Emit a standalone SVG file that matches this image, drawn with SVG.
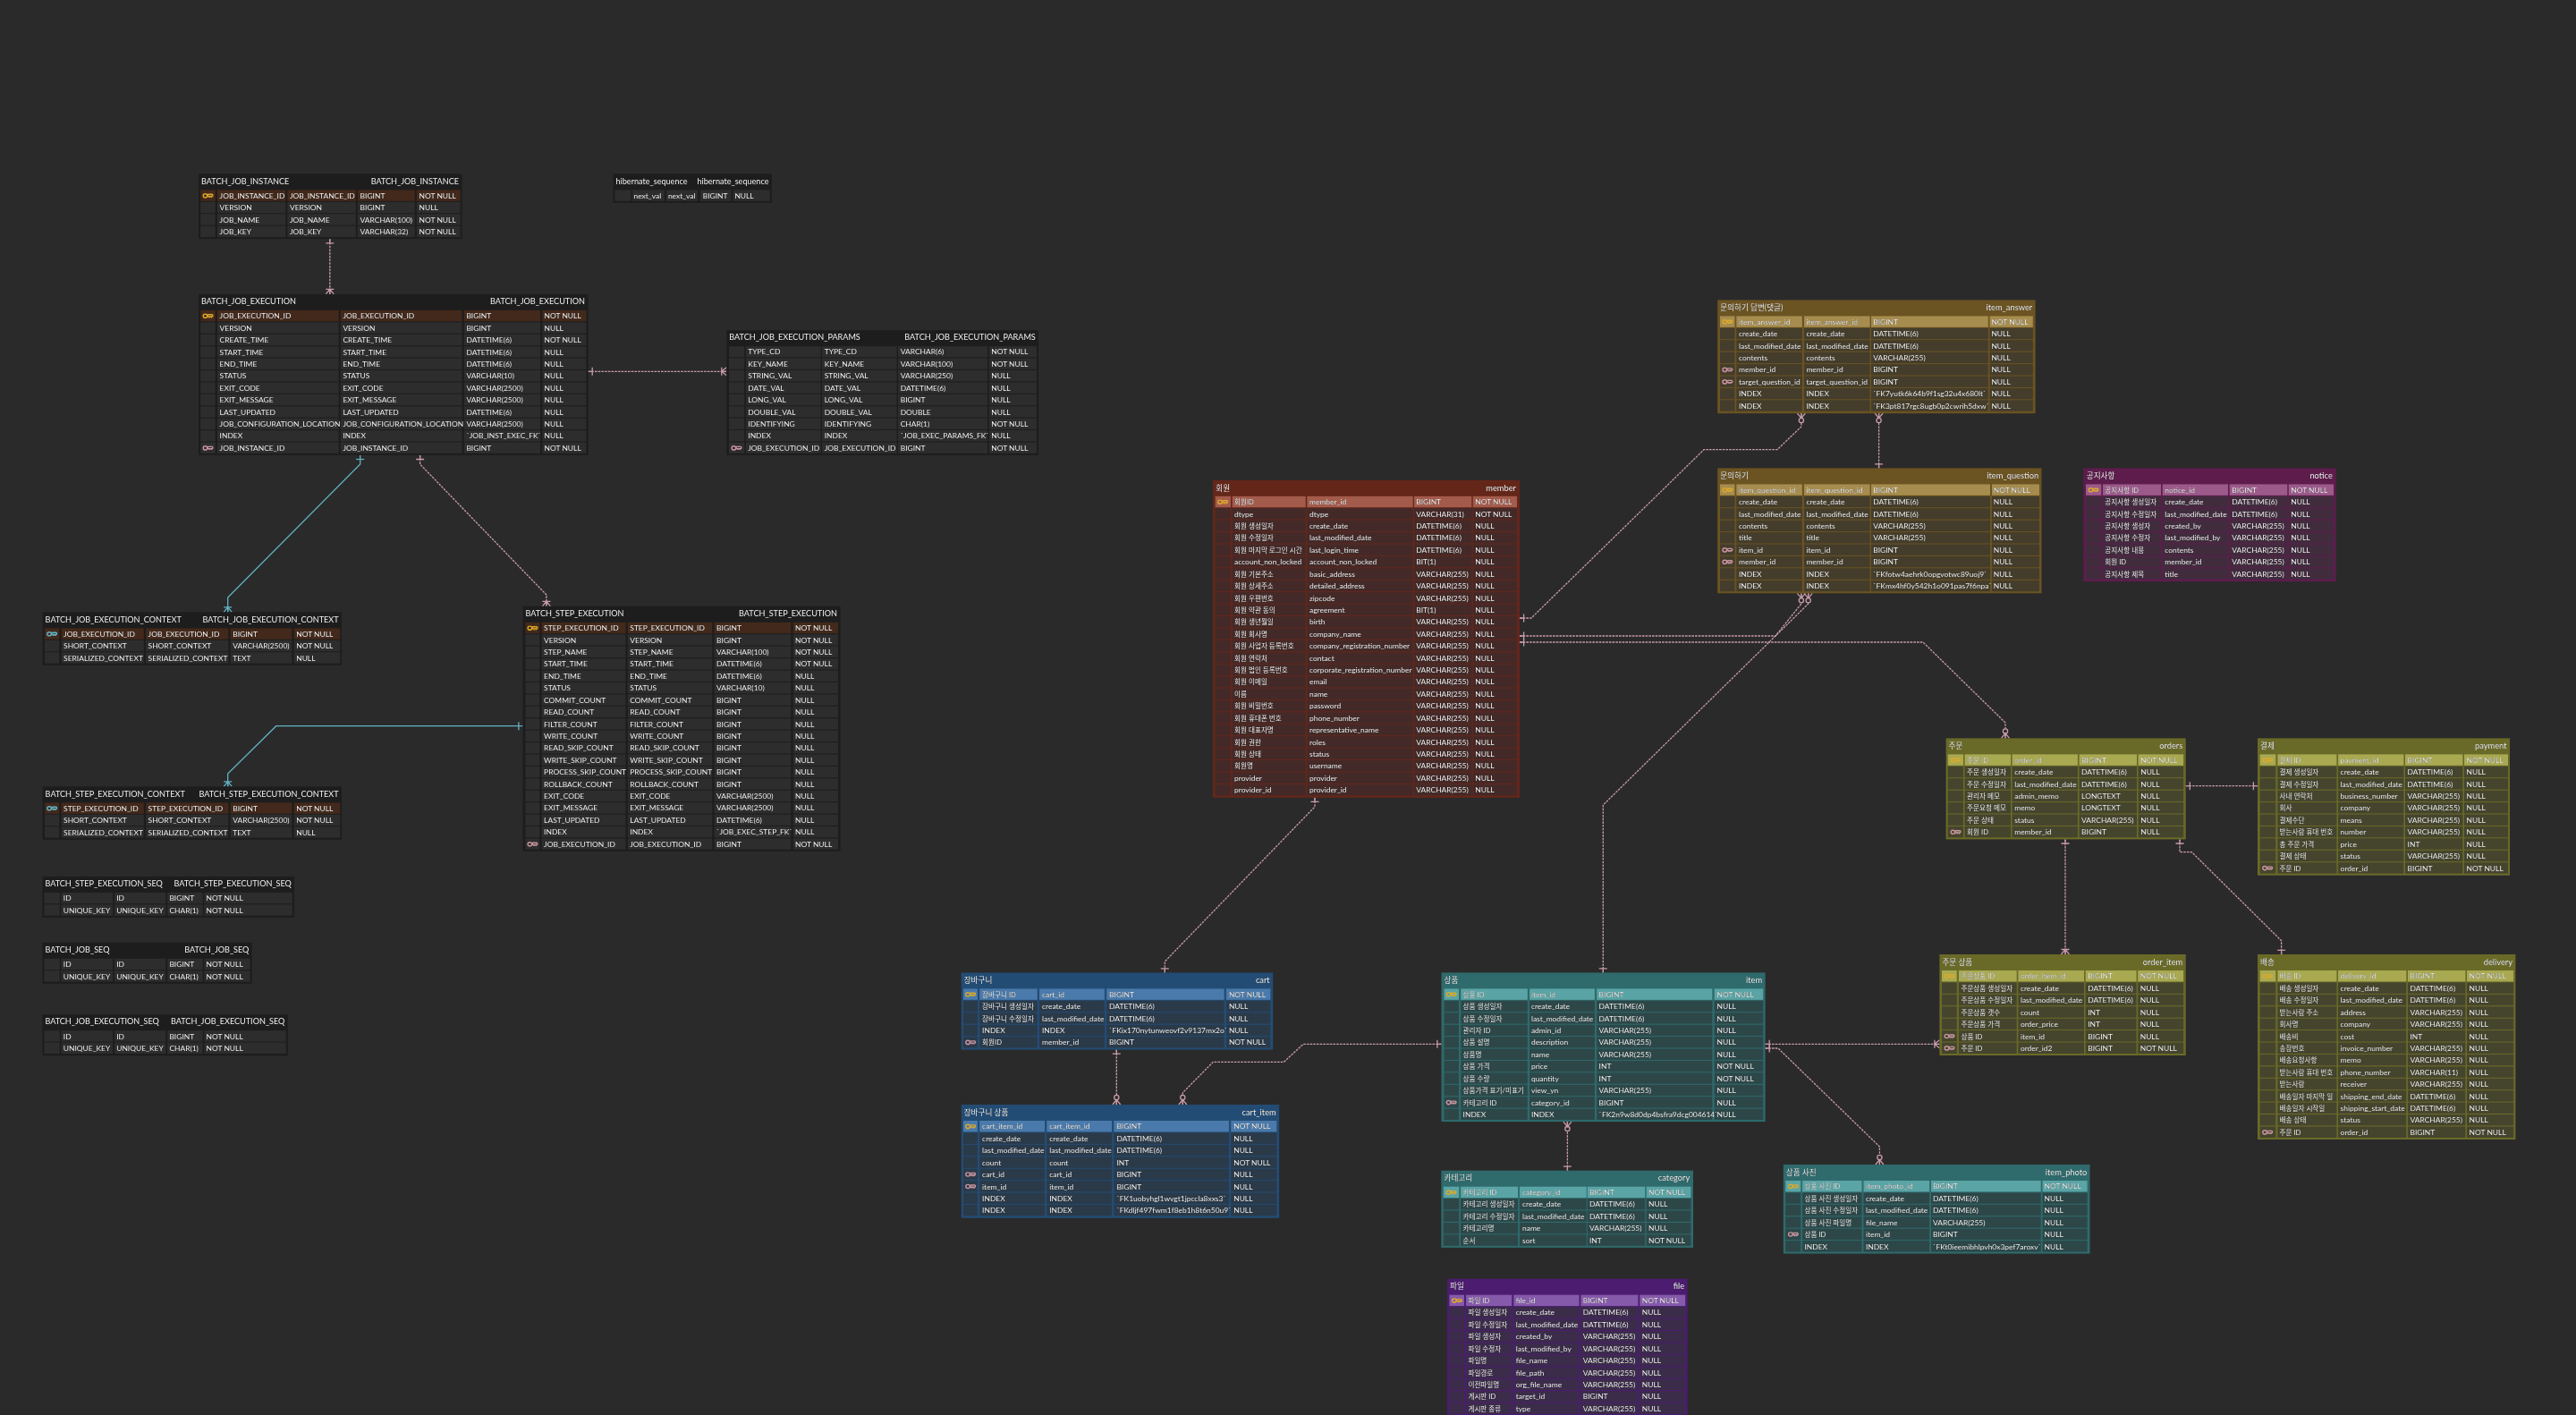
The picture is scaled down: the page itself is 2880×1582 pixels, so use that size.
<svg xmlns="http://www.w3.org/2000/svg" width="2880" height="1582" viewBox="0 0 2880 1582">
<style>
text{font-family:Lato,"Noto Sans CJK KR","Noto Sans",sans-serif;font-size:8.45px;fill:#f6f6f6}
.ti{font-size:9.3px}.dk .ti{font-size:9.1px}.tk{font-size:8.6px}.e{text-anchor:end}
.kn text{font-size:7.6px}.kn text.la{font-size:8.45px}
.tx{filter:drop-shadow(.5px .6px .5px rgba(0,0,0,.85))}
.dk .o{fill:#1d1d1d}.dk .r{fill:#2d2d2d}.dk .p{fill:#43291b}
.re .o{fill:#65261a}.re .r{fill:#432a28}.re .p{fill:#a35b4c}
.ye .o{fill:#6b5322}.ye .r{fill:#443d2c}.ye .p{fill:#a68c4e}
.pu .o{fill:#5e1c4d}.pu .r{fill:#412c3e}.pu .p{fill:#9c5a8b}
.ol .o{fill:#6a6a28}.ol .r{fill:#45452e}.ol .p{fill:#a9a952}
.te .o{fill:#2f6a6c}.te .r{fill:#2d4748}.te .p{fill:#5aa4a5}
.bl .o{fill:#234c74}.bl .r{fill:#2b3a49}.bl .p{fill:#4a7aab}
.vi .o{fill:#4c1c70}.vi .r{fill:#3b2c4a}.vi .p{fill:#855aaa}
.ky{stroke:#dcaa2c}.kf{stroke:#c9959f}.kt{stroke:#5fb7c8}
.kk{fill:none;stroke-width:1.4}
.c{fill:none;stroke:#c99ca8;stroke-width:1.3;stroke-dasharray:2.6 1.1}
.ct{fill:none;stroke:#62b1c2;stroke-width:1.3}
.c{marker-start:url(#bar)}.ct{marker-start:url(#bart)}
.m{fill:none;stroke:#c99ca8;stroke-width:1.3}.mt{fill:none;stroke:#62b1c2;stroke-width:1.3}
</style>
<defs>
<marker id="bar" markerUnits="userSpaceOnUse" markerWidth="26" markerHeight="16" refX="20" refY="8" orient="auto-start-reverse"><path class="m" d="M15.4 3.5V12.5M15.4 8H20"/></marker>
<marker id="bart" markerUnits="userSpaceOnUse" markerWidth="26" markerHeight="16" refX="20" refY="8" orient="auto-start-reverse"><path class="mt" d="M15.4 3.5V12.5"/></marker>
<marker id="crow" markerUnits="userSpaceOnUse" markerWidth="26" markerHeight="16" refX="20" refY="8" orient="auto-start-reverse"><path class="m" d="M14.5 3.5V12.5M20 3.5L14.5 8L20 12.5M14.5 8H20"/></marker>
<marker id="crowt" markerUnits="userSpaceOnUse" markerWidth="26" markerHeight="16" refX="20" refY="8" orient="auto-start-reverse"><path class="mt" d="M14.5 3.5V12.5M20 3.5L14.5 8L20 12.5M14.5 8H20"/></marker>
<marker id="crowo" markerUnits="userSpaceOnUse" markerWidth="26" markerHeight="16" refX="20" refY="8" orient="auto-start-reverse"><circle cx="12" cy="8" r="2.6" fill="#2a2a2a" stroke="#c99ca8" stroke-width="1.3"/><path class="m" d="M20 3.5L14.5 8L20 12.5M14.5 8H20M20 8"/></marker>
<g id="k"><ellipse class="kk" cx="-2.9" rx="2.3" ry="2.1"/><rect class="kk" x="-.3" y="-1.5" width="5.8" height="2.2" rx=".9"/><path class="kk" d="M1.6 .7V2.2M4 .7V2.2"/></g>
<g id="r1"><rect x="2.2" width="16.5" height="12.4"/><rect x="21" width="76.3" height="12.4"/><rect x="99.4" width="76.4" height="12.4"/><rect x="178" width="63.8" height="12.4"/><rect x="244" width="48.7" height="12.4"/></g>
<g id="r2"><rect x="2.2" width="16.5" height="12.4"/><rect x="21" width="135.7" height="12.4"/><rect x="158.8" width="135.7" height="12.4"/><rect x="296.8" width="85.2" height="12.4"/><rect x="384.3" width="49.1" height="12.4"/></g>
<g id="r3"><rect x="2" width="18" height="12.4"/><rect x="21.6" width="35.8" height="12.4"/><rect x="59.5" width="35" height="12.4"/><rect x="97.5" width="34.4" height="12.4"/><rect x="134.1" width="41.1" height="12.4"/></g>
<g id="r4"><rect x="2.7" width="17.3" height="12.4"/><rect x="21.7" width="83.7" height="12.4"/><rect x="106.7" width="83.7" height="12.4"/><rect x="191.7" width="100" height="12.4"/><rect x="293.4" width="53.3" height="12.4"/></g>
<g id="r5"><rect x="2.4" width="16.2" height="12.4"/><rect x="21.1" width="92.1" height="12.4"/><rect x="115.6" width="92.1" height="12.4"/><rect x="210.1" width="68.6" height="12.4"/><rect x="281.1" width="51.6" height="12.4"/></g>
<g id="r6"><rect x="2.9" width="15.9" height="12.4"/><rect x="21.1" width="93.9" height="12.4"/><rect x="117.3" width="94.5" height="12.4"/><rect x="214.1" width="85.7" height="12.4"/><rect x="302.2" width="50.3" height="12.4"/></g>
<g id="r7"><rect x="2" width="17.4" height="12.4"/><rect x="21" width="57.7" height="12.4"/><rect x="80.6" width="57.3" height="12.4"/><rect x="139.8" width="39.5" height="12.4"/><rect x="181" width="98.4" height="12.4"/></g>
<g id="r8"><rect x="2" width="17.4" height="12.4"/><rect x="21" width="57.7" height="12.4"/><rect x="80.6" width="57.3" height="12.4"/><rect x="139.8" width="39.5" height="12.4"/><rect x="181" width="51" height="12.4"/></g>
<g id="r9"><rect x="2" width="17.4" height="12.4"/><rect x="21" width="57.7" height="12.4"/><rect x="80.6" width="57.3" height="12.4"/><rect x="139.8" width="39.5" height="12.4"/><rect x="181" width="91.4" height="12.4"/></g>
<g id="r10"><rect x="2.7" width="17.3" height="12.4"/><rect x="21.7" width="82" height="12.4"/><rect x="105.3" width="118.4" height="12.4"/><rect x="225" width="64.3" height="12.4"/><rect x="290.7" width="49.3" height="12.4"/></g>
<g id="r11"><rect x="2.8" width="16.5" height="12.4"/><rect x="21.1" width="73.5" height="12.4"/><rect x="96.8" width="73.6" height="12.4"/><rect x="171.8" width="130.8" height="12.4"/><rect x="304.4" width="48.2" height="12.4"/></g>
<g id="r12"><rect x="2.8" width="16.5" height="12.4"/><rect x="21.1" width="73.5" height="12.4"/><rect x="96.8" width="73.6" height="12.4"/><rect x="171.8" width="133" height="12.4"/><rect x="306.8" width="53" height="12.4"/></g>
<g id="r13"><rect x="2.7" width="17.3" height="12.4"/><rect x="21.7" width="65" height="12.4"/><rect x="88.4" width="73.3" height="12.4"/><rect x="163.4" width="64.6" height="12.4"/><rect x="229.4" width="50.3" height="12.4"/></g>
<g id="r14"><rect x="2.1" width="17.3" height="12.4"/><rect x="21" width="51.4" height="12.4"/><rect x="74" width="73.3" height="12.4"/><rect x="149" width="64.4" height="12.4"/><rect x="215" width="50.5" height="12.4"/></g>
<g id="r15"><rect x="2.6" width="17.7" height="12.4"/><rect x="22.4" width="66" height="12.4"/><rect x="90.1" width="73.3" height="12.4"/><rect x="165" width="64.4" height="12.4"/><rect x="231" width="49" height="12.4"/></g>
<g id="r16"><rect x="2.6" width="16.8" height="12.4"/><rect x="21.5" width="64.8" height="12.4"/><rect x="88" width="73.6" height="12.4"/><rect x="163.3" width="56.8" height="12.4"/><rect x="221.8" width="50.9" height="12.4"/></g>
<g id="r17"><rect x="2.6" width="17.7" height="12.4"/><rect x="22.4" width="66" height="12.4"/><rect x="90" width="76.3" height="12.4"/><rect x="168" width="64.4" height="12.4"/><rect x="234" width="52.2" height="12.4"/></g>
<g id="r18"><rect x="2.3" width="15.9" height="12.4"/><rect x="20.5" width="64.5" height="12.4"/><rect x="87.3" width="72.9" height="12.4"/><rect x="162.5" width="131.4" height="12.4"/><rect x="296.3" width="49.3" height="12.4"/></g>
<g id="r19"><rect x="2.3" width="15.9" height="12.4"/><rect x="20.5" width="72.8" height="12.4"/><rect x="95.6" width="72.7" height="12.4"/><rect x="170.7" width="128.5" height="12.4"/><rect x="301.6" width="51" height="12.4"/></g>
<g id="r20"><rect x="3" width="16.5" height="12.4"/><rect x="21.8" width="74.5" height="12.4"/><rect x="98.6" width="72.8" height="12.4"/><rect x="173.7" width="129.1" height="12.4"/><rect x="305.2" width="54.5" height="12.4"/></g>
<g id="r21"><rect x="2.5" width="17.4" height="12.4"/><rect x="21.8" width="64" height="12.4"/><rect x="87.7" width="74.7" height="12.4"/><rect x="163.4" width="64.5" height="12.4"/><rect x="229.3" width="49.9" height="12.4"/></g>
<g id="r22"><rect x="2.4" width="17" height="12.4"/><rect x="21.3" width="66.4" height="12.4"/><rect x="89.7" width="73.6" height="12.4"/><rect x="165.2" width="122.7" height="12.4"/><rect x="289.8" width="50" height="12.4"/></g>
<g id="r23"><rect x="2.4" width="16.5" height="12.4"/><rect x="20.9" width="51.3" height="12.4"/><rect x="74.2" width="73.2" height="12.4"/><rect x="149.3" width="64" height="12.4"/><rect x="215.2" width="50.9" height="12.4"/></g>
</defs>
<rect width="2880" height="1582" fill="#2a2a2a"/>
<g id="connectors">
<path class="c" marker-end="url(#crow)" d="M368.8 267.3V328.9"/>
<path class="c" marker-end="url(#crow)" d="M657.6 415.3H812.3"/>
<path class="ct" marker-end="url(#crowt)" d="M402.7 508.9V519L254.7 668V684.4"/>
<path class="c" marker-end="url(#crow)" d="M469.6 508.9V519L610.9 665V677.8"/>
<path class="ct" marker-end="url(#crowt)" d="M584.5 811.7H308.7L254.7 865V879.4"/>
<path class="c" marker-end="url(#crowo)" d="M1699 691H1712L1905 502.7H1987L2013.9 477V462"/>
<path class="c" marker-end="url(#crowo)" d="M2100.6 523.4V462"/>
<path class="c" marker-end="url(#crowo)" d="M1699 711H1985L2013.9 675V663.3"/>
<path class="c" marker-end="url(#crowo)" d="M1792.3 1087.4V900L2021.7 675V663.3"/>
<path class="c" marker-end="url(#crowo)" d="M1699 718H2150L2242 808V825.4"/>
<path class="c" marker-end="url(#bar)" d="M2443.7 878.7H2524"/>
<path class="c" marker-end="url(#crow)" d="M2309 938.4V1067"/>
<path class="c" marker-end="url(#bar)" d="M2437 938.4V952.7H2450.4L2550.6 1051.7V1067"/>
<path class="c" marker-end="url(#bar)" d="M1470 891.8V902L1302.3 1075V1087.4"/>
<path class="c" marker-end="url(#crowo)" d="M1248.3 1173.6V1235"/>
<path class="c" marker-end="url(#crowo)" d="M1611.5 1167.3H1457.2L1435.5 1187.3H1356.3L1322.3 1221.7V1235"/>
<path class="c" marker-end="url(#crowo)" d="M1752.4 1308.7V1254.1"/>
<path class="c" marker-end="url(#crow)" d="M1973.6 1167.3H2168.4"/>
<path class="c" marker-end="url(#crowo)" d="M1973.6 1172H1988L2101.4 1282V1302"/>
</g>

<g id="BATCH_JOB_INSTANCE" class="dk" transform="translate(222,194.4)"><rect class="o" width="294.5" height="72.7"/>
<use class="p" href="#r1" y="18"/><g class="r"><use href="#r1" y="31.4"/><use href="#r1" y="44.8"/><use href="#r1" y="58.3"/></g>
<use href="#k" class="ky" x="10.4" y="24.4"/>
<g class="tx"><text class="ti" x="3" y="11.3">BATCH_JOB_INSTANCE</text><text class="ti e" x="291" y="11.3">BATCH_JOB_INSTANCE</text>
<g transform="translate(23.6)"><text y="27.4">JOB_INSTANCE_ID</text><text y="40.8">VERSION</text><text y="54.2">JOB_NAME</text><text y="67.7">JOB_KEY</text></g>
<g transform="translate(102)"><text y="27.4">JOB_INSTANCE_ID</text><text y="40.8">VERSION</text><text y="54.2">JOB_NAME</text><text y="67.7">JOB_KEY</text></g>
<g transform="translate(180.6)"><text y="27.4">BIGINT</text><text y="40.8">BIGINT</text><text y="54.2">VARCHAR(100)</text><text y="67.7">VARCHAR(32)</text></g>
<g transform="translate(246.6)"><text y="27.4">NOT NULL</text><text y="40.8">NULL</text><text y="54.2">NOT NULL</text><text y="67.7">NOT NULL</text></g></g></g>

<g id="hibernate_sequence" class="dk" transform="translate(685.5,194.4)"><rect class="o" width="177.4" height="32.5"/>
<use class="r" href="#r3" y="18"/>
<g class="tx"><text class="ti" x="3" y="11.3">hibernate_sequence</text><text class="ti e" x="174" y="11.3">hibernate_sequence</text>
<text x="23" y="27.4">next_val</text><text x="61.4" y="27.4">next_val</text><text x="100.2" y="27.4">BIGINT</text><text x="135.9" y="27.4">NULL</text></g></g>

<g id="BATCH_JOB_EXECUTION" class="dk" transform="translate(222,328.9)"><rect class="o" width="435.6" height="180"/>
<use class="p" href="#r2" y="18"/><g class="r"><use href="#r2" y="31.4"/><use href="#r2" y="44.8"/><use href="#r2" y="58.3"/><use href="#r2" y="71.7"/><use href="#r2" y="85.1"/><use href="#r2" y="98.5"/><use href="#r2" y="111.9"/><use href="#r2" y="125.4"/><use href="#r2" y="138.8"/><use href="#r2" y="152.2"/><use href="#r2" y="165.6"/></g>
<use href="#k" class="ky" x="10.4" y="24.4"/><use href="#k" class="kf" x="10.4" y="172"/>
<g class="tx"><text class="ti" x="3" y="11.3">BATCH_JOB_EXECUTION</text><text class="ti e" x="432" y="11.3">BATCH_JOB_EXECUTION</text>
<g transform="translate(23.6)"><text y="27.4">JOB_EXECUTION_ID</text><text y="40.8">VERSION</text><text y="54.2">CREATE_TIME</text><text y="67.7">START_TIME</text><text y="81.1">END_TIME</text><text y="94.5">STATUS</text><text y="107.9">EXIT_CODE</text><text y="121.3">EXIT_MESSAGE</text><text y="134.8">LAST_UPDATED</text><text y="148.2">JOB_CONFIGURATION_LOCATION</text><text y="161.6">INDEX</text><text y="175">JOB_INSTANCE_ID</text></g>
<g transform="translate(161.4)"><text y="27.4">JOB_EXECUTION_ID</text><text y="40.8">VERSION</text><text y="54.2">CREATE_TIME</text><text y="67.7">START_TIME</text><text y="81.1">END_TIME</text><text y="94.5">STATUS</text><text y="107.9">EXIT_CODE</text><text y="121.3">EXIT_MESSAGE</text><text y="134.8">LAST_UPDATED</text><text y="148.2">JOB_CONFIGURATION_LOCATION</text><text y="161.6">INDEX</text><text y="175">JOB_INSTANCE_ID</text></g>
<g transform="translate(299.4)"><text y="27.4">BIGINT</text><text y="40.8">BIGINT</text><text y="54.2">DATETIME(6)</text><text y="67.7">DATETIME(6)</text><text y="81.1">DATETIME(6)</text><text y="94.5">VARCHAR(10)</text><text y="107.9">VARCHAR(2500)</text><text y="121.3">VARCHAR(2500)</text><text y="134.8">DATETIME(6)</text><text y="148.2">VARCHAR(2500)</text><text y="161.6">`JOB_INST_EXEC_FK`</text><text y="175">BIGINT</text></g>
<g transform="translate(386.6)"><text y="27.4">NOT NULL</text><text y="40.8">NULL</text><text y="54.2">NOT NULL</text><text y="67.7">NULL</text><text y="81.1">NULL</text><text y="94.5">NULL</text><text y="107.9">NULL</text><text y="121.3">NULL</text><text y="134.8">NULL</text><text y="148.2">NULL</text><text y="161.6">NULL</text><text y="175">NOT NULL</text></g></g></g>

<g id="BATCH_JOB_EXECUTION_PARAMS" class="dk" transform="translate(812.3,369.1)"><rect class="o" width="348.7" height="139.8"/>
<g class="r"><use href="#r4" y="18"/><use href="#r4" y="31.4"/><use href="#r4" y="44.8"/><use href="#r4" y="58.3"/><use href="#r4" y="71.7"/><use href="#r4" y="85.1"/><use href="#r4" y="98.5"/><use href="#r4" y="111.9"/><use href="#r4" y="125.4"/></g>
<use href="#k" class="kf" x="11" y="131.8"/>
<g class="tx"><text class="ti" x="3" y="11.3">BATCH_JOB_EXECUTION_PARAMS</text><text class="ti e" x="345.5" y="11.3">BATCH_JOB_EXECUTION_PARAMS</text>
<g transform="translate(24)"><text y="27.4">TYPE_CD</text><text y="40.8">KEY_NAME</text><text y="54.2">STRING_VAL</text><text y="67.7">DATE_VAL</text><text y="81.1">LONG_VAL</text><text y="94.5">DOUBLE_VAL</text><text y="107.9">IDENTIFYING</text><text y="121.3">INDEX</text><text y="134.8">JOB_EXECUTION_ID</text></g>
<g transform="translate(109.4)"><text y="27.4">TYPE_CD</text><text y="40.8">KEY_NAME</text><text y="54.2">STRING_VAL</text><text y="67.7">DATE_VAL</text><text y="81.1">LONG_VAL</text><text y="94.5">DOUBLE_VAL</text><text y="107.9">IDENTIFYING</text><text y="121.3">INDEX</text><text y="134.8">JOB_EXECUTION_ID</text></g>
<g transform="translate(194.4)"><text y="27.4">VARCHAR(6)</text><text y="40.8">VARCHAR(100)</text><text y="54.2">VARCHAR(250)</text><text y="67.7">DATETIME(6)</text><text y="81.1">BIGINT</text><text y="94.5">DOUBLE</text><text y="107.9">CHAR(1)</text><text y="121.3">`JOB_EXEC_PARAMS_FK`</text><text y="134.8">BIGINT</text></g>
<g transform="translate(296)"><text y="27.4">NOT NULL</text><text y="40.8">NOT NULL</text><text y="54.2">NULL</text><text y="67.7">NULL</text><text y="81.1">NULL</text><text y="94.5">NULL</text><text y="107.9">NOT NULL</text><text y="121.3">NULL</text><text y="134.8">NOT NULL</text></g></g></g>

<g id="BATCH_JOB_EXECUTION_CONTEXT" class="dk" transform="translate(47.6,684.4)"><rect class="o" width="334.4" height="59.4"/>
<use class="p" href="#r5" y="18"/><g class="r"><use href="#r5" y="31.4"/><use href="#r5" y="44.8"/></g>
<use href="#k" class="kt" x="10.4" y="24.4"/>
<g class="tx"><text class="ti" x="3" y="11.3">BATCH_JOB_EXECUTION_CONTEXT</text><text class="ti e" x="331" y="11.3">BATCH_JOB_EXECUTION_CONTEXT</text>
<g transform="translate(23.5)"><text y="27.4">JOB_EXECUTION_ID</text><text y="40.8">SHORT_CONTEXT</text><text y="54.2">SERIALIZED_CONTEXT</text></g>
<g transform="translate(118)"><text y="27.4">JOB_EXECUTION_ID</text><text y="40.8">SHORT_CONTEXT</text><text y="54.2">SERIALIZED_CONTEXT</text></g>
<g transform="translate(212.6)"><text y="27.4">BIGINT</text><text y="40.8">VARCHAR(2500)</text><text y="54.2">TEXT</text></g>
<g transform="translate(283.6)"><text y="27.4">NOT NULL</text><text y="40.8">NOT NULL</text><text y="54.2">NULL</text></g></g></g>

<g id="BATCH_STEP_EXECUTION_CONTEXT" class="dk" transform="translate(47.6,879.4)"><rect class="o" width="334.4" height="59.4"/>
<use class="p" href="#r5" y="18"/><g class="r"><use href="#r5" y="31.4"/><use href="#r5" y="44.8"/></g>
<use href="#k" class="kt" x="10.4" y="24.4"/>
<g class="tx"><text class="ti" x="3" y="11.3">BATCH_STEP_EXECUTION_CONTEXT</text><text class="ti e" x="331" y="11.3">BATCH_STEP_EXECUTION_CONTEXT</text>
<g transform="translate(23.5)"><text y="27.4">STEP_EXECUTION_ID</text><text y="40.8">SHORT_CONTEXT</text><text y="54.2">SERIALIZED_CONTEXT</text></g>
<g transform="translate(118)"><text y="27.4">STEP_EXECUTION_ID</text><text y="40.8">SHORT_CONTEXT</text><text y="54.2">SERIALIZED_CONTEXT</text></g>
<g transform="translate(212.6)"><text y="27.4">BIGINT</text><text y="40.8">VARCHAR(2500)</text><text y="54.2">TEXT</text></g>
<g transform="translate(283.6)"><text y="27.4">NOT NULL</text><text y="40.8">NOT NULL</text><text y="54.2">NULL</text></g></g></g>

<g id="BATCH_STEP_EXECUTION" class="dk" transform="translate(584.5,677.8)"><rect class="o" width="355" height="274"/>
<use class="p" href="#r6" y="18"/><g class="r"><use href="#r6" y="31.4"/><use href="#r6" y="44.8"/><use href="#r6" y="58.3"/><use href="#r6" y="71.7"/><use href="#r6" y="85.1"/><use href="#r6" y="98.5"/><use href="#r6" y="111.9"/><use href="#r6" y="125.4"/><use href="#r6" y="138.8"/><use href="#r6" y="152.2"/><use href="#r6" y="165.6"/><use href="#r6" y="179"/><use href="#r6" y="192.5"/><use href="#r6" y="205.9"/><use href="#r6" y="219.3"/><use href="#r6" y="232.7"/><use href="#r6" y="246.1"/><use href="#r6" y="259.6"/></g>
<use href="#k" class="ky" x="10.8" y="24.4"/><use href="#k" class="kf" x="10.8" y="266"/>
<g class="tx"><text class="ti" x="3" y="11.3">BATCH_STEP_EXECUTION</text><text class="ti e" x="351.5" y="11.3">BATCH_STEP_EXECUTION</text>
<g transform="translate(23.6)"><text y="27.4">STEP_EXECUTION_ID</text><text y="40.8">VERSION</text><text y="54.2">STEP_NAME</text><text y="67.7">START_TIME</text><text y="81.1">END_TIME</text><text y="94.5">STATUS</text><text y="107.9">COMMIT_COUNT</text><text y="121.3">READ_COUNT</text><text y="134.8">FILTER_COUNT</text><text y="148.2">WRITE_COUNT</text><text y="161.6">READ_SKIP_COUNT</text><text y="175">WRITE_SKIP_COUNT</text><text y="188.4">PROCESS_SKIP_COUNT</text><text y="201.9">ROLLBACK_COUNT</text><text y="215.3">EXIT_CODE</text><text y="228.7">EXIT_MESSAGE</text><text y="242.1">LAST_UPDATED</text><text y="255.5">INDEX</text><text y="269">JOB_EXECUTION_ID</text></g>
<g transform="translate(119.8)"><text y="27.4">STEP_EXECUTION_ID</text><text y="40.8">VERSION</text><text y="54.2">STEP_NAME</text><text y="67.7">START_TIME</text><text y="81.1">END_TIME</text><text y="94.5">STATUS</text><text y="107.9">COMMIT_COUNT</text><text y="121.3">READ_COUNT</text><text y="134.8">FILTER_COUNT</text><text y="148.2">WRITE_COUNT</text><text y="161.6">READ_SKIP_COUNT</text><text y="175">WRITE_SKIP_COUNT</text><text y="188.4">PROCESS_SKIP_COUNT</text><text y="201.9">ROLLBACK_COUNT</text><text y="215.3">EXIT_CODE</text><text y="228.7">EXIT_MESSAGE</text><text y="242.1">LAST_UPDATED</text><text y="255.5">INDEX</text><text y="269">JOB_EXECUTION_ID</text></g>
<g transform="translate(216.6)"><text y="27.4">BIGINT</text><text y="40.8">BIGINT</text><text y="54.2">VARCHAR(100)</text><text y="67.7">DATETIME(6)</text><text y="81.1">DATETIME(6)</text><text y="94.5">VARCHAR(10)</text><text y="107.9">BIGINT</text><text y="121.3">BIGINT</text><text y="134.8">BIGINT</text><text y="148.2">BIGINT</text><text y="161.6">BIGINT</text><text y="175">BIGINT</text><text y="188.4">BIGINT</text><text y="201.9">BIGINT</text><text y="215.3">VARCHAR(2500)</text><text y="228.7">VARCHAR(2500)</text><text y="242.1">DATETIME(6)</text><text y="255.5">`JOB_EXEC_STEP_FK`</text><text y="269">BIGINT</text></g>
<g transform="translate(304.6)"><text y="27.4">NOT NULL</text><text y="40.8">NOT NULL</text><text y="54.2">NOT NULL</text><text y="67.7">NOT NULL</text><text y="81.1">NULL</text><text y="94.5">NULL</text><text y="107.9">NULL</text><text y="121.3">NULL</text><text y="134.8">NULL</text><text y="148.2">NULL</text><text y="161.6">NULL</text><text y="175">NULL</text><text y="188.4">NULL</text><text y="201.9">NULL</text><text y="215.3">NULL</text><text y="228.7">NULL</text><text y="242.1">NULL</text><text y="255.5">NULL</text><text y="269">NOT NULL</text></g></g></g>

<g id="BATCH_STEP_EXECUTION_SEQ" class="dk" transform="translate(47.4,979.9)"><rect class="o" width="281.6" height="46"/>
<g class="r"><use href="#r7" y="18"/><use href="#r7" y="31.4"/></g>
<g class="tx"><text class="ti" x="3" y="11.3">BATCH_STEP_EXECUTION_SEQ</text><text class="ti e" x="278.5" y="11.3">BATCH_STEP_EXECUTION_SEQ</text>
<text x="23.4" y="27.4">ID</text><text x="82.8" y="27.4">ID</text><text x="142" y="27.4">BIGINT</text><text x="183.2" y="27.4">NOT NULL</text>
<text x="23.4" y="40.8">UNIQUE_KEY</text><text x="82.8" y="40.8">UNIQUE_KEY</text><text x="142" y="40.8">CHAR(1)</text><text x="183.2" y="40.8">NOT NULL</text></g></g>

<g id="BATCH_JOB_SEQ" class="dk" transform="translate(47.4,1053.8)"><rect class="o" width="234.3" height="46"/>
<g class="r"><use href="#r8" y="18"/><use href="#r8" y="31.4"/></g>
<g class="tx"><text class="ti" x="3" y="11.3">BATCH_JOB_SEQ</text><text class="ti e" x="231" y="11.3">BATCH_JOB_SEQ</text>
<text x="23.4" y="27.4">ID</text><text x="82.8" y="27.4">ID</text><text x="142" y="27.4">BIGINT</text><text x="183.2" y="27.4">NOT NULL</text>
<text x="23.4" y="40.8">UNIQUE_KEY</text><text x="82.8" y="40.8">UNIQUE_KEY</text><text x="142" y="40.8">CHAR(1)</text><text x="183.2" y="40.8">NOT NULL</text></g></g>

<g id="BATCH_JOB_EXECUTION_SEQ" class="dk" transform="translate(47.4,1134.2)"><rect class="o" width="274.4" height="46"/>
<g class="r"><use href="#r9" y="18"/><use href="#r9" y="31.4"/></g>
<g class="tx"><text class="ti" x="3" y="11.3">BATCH_JOB_EXECUTION_SEQ</text><text class="ti e" x="271" y="11.3">BATCH_JOB_EXECUTION_SEQ</text>
<text x="23.4" y="27.4">ID</text><text x="82.8" y="27.4">ID</text><text x="142" y="27.4">BIGINT</text><text x="183.2" y="27.4">NOT NULL</text>
<text x="23.4" y="40.8">UNIQUE_KEY</text><text x="82.8" y="40.8">UNIQUE_KEY</text><text x="142" y="40.8">CHAR(1)</text><text x="183.2" y="40.8">NOT NULL</text></g></g>

<g id="member" class="re" transform="translate(1356,536.8)"><rect class="o" width="343" height="355"/>
<use class="p" href="#r10" y="18"/><g class="r"><use href="#r10" y="31.4"/><use href="#r10" y="44.8"/><use href="#r10" y="58.3"/><use href="#r10" y="71.7"/><use href="#r10" y="85.1"/><use href="#r10" y="98.5"/><use href="#r10" y="111.9"/><use href="#r10" y="125.4"/><use href="#r10" y="138.8"/><use href="#r10" y="152.2"/><use href="#r10" y="165.6"/><use href="#r10" y="179"/><use href="#r10" y="192.5"/><use href="#r10" y="205.9"/><use href="#r10" y="219.3"/><use href="#r10" y="232.7"/><use href="#r10" y="246.1"/><use href="#r10" y="259.6"/><use href="#r10" y="273"/><use href="#r10" y="286.4"/><use href="#r10" y="299.8"/><use href="#r10" y="313.2"/><use href="#r10" y="326.7"/><use href="#r10" y="340.1"/></g>
<use href="#k" class="ky" x="11" y="24.4"/>
<g class="tx"><text class="ti tk" x="3.3" y="11.8">회원</text><text class="ti e" x="339" y="11.8">member</text>
<g class="kn" transform="translate(24)"><text y="27.4">회원ID</text><text class="la" y="40.8">dtype</text><text y="54.2">회원 생성일자</text><text y="67.7">회원 수정일자</text><text y="81.1">회원 마지막 로그인 시간</text><text class="la" y="94.5">account_non_locked</text><text y="107.9">회원 기본주소</text><text y="121.3">회원 상세주소</text><text y="134.8">회원 우편번호</text><text y="148.2">회원 약관 동의</text><text y="161.6">회원 생년월일</text><text y="175">회원 회사명</text><text y="188.4">회원 사업자 등록번호</text><text y="201.9">회원 연락처</text><text y="215.3">회원 법인 등록번호</text><text y="228.7">회원 이메일</text><text y="242.1">이름</text><text y="255.5">회원 비밀번호</text><text y="269">회원 휴대폰 번호</text><text y="282.4">회원 대표자명</text><text y="295.8">회원 권한</text><text y="309.2">회원 상태</text><text y="322.6">회원명</text><text class="la" y="336.1">provider</text><text class="la" y="349.5">provider_id</text></g>
<g transform="translate(108)"><text y="27.4">member_id</text><text y="40.8">dtype</text><text y="54.2">create_date</text><text y="67.7">last_modified_date</text><text y="81.1">last_login_time</text><text y="94.5">account_non_locked</text><text y="107.9">basic_address</text><text y="121.3">detailed_address</text><text y="134.8">zipcode</text><text y="148.2">agreement</text><text y="161.6">birth</text><text y="175">company_name</text><text y="188.4">company_registration_number</text><text y="201.9">contact</text><text y="215.3">corporate_registration_number</text><text y="228.7">email</text><text y="242.1">name</text><text y="255.5">password</text><text y="269">phone_number</text><text y="282.4">representative_name</text><text y="295.8">roles</text><text y="309.2">status</text><text y="322.6">username</text><text y="336.1">provider</text><text y="349.5">provider_id</text></g>
<g transform="translate(227.3)"><text y="27.4">BIGINT</text><text y="40.8">VARCHAR(31)</text><text y="54.2">DATETIME(6)</text><text y="67.7">DATETIME(6)</text><text y="81.1">DATETIME(6)</text><text y="94.5">BIT(1)</text><text y="107.9">VARCHAR(255)</text><text y="121.3">VARCHAR(255)</text><text y="134.8">VARCHAR(255)</text><text y="148.2">BIT(1)</text><text y="161.6">VARCHAR(255)</text><text y="175">VARCHAR(255)</text><text y="188.4">VARCHAR(255)</text><text y="201.9">VARCHAR(255)</text><text y="215.3">VARCHAR(255)</text><text y="228.7">VARCHAR(255)</text><text y="242.1">VARCHAR(255)</text><text y="255.5">VARCHAR(255)</text><text y="269">VARCHAR(255)</text><text y="282.4">VARCHAR(255)</text><text y="295.8">VARCHAR(255)</text><text y="309.2">VARCHAR(255)</text><text y="322.6">VARCHAR(255)</text><text y="336.1">VARCHAR(255)</text><text y="349.5">VARCHAR(255)</text></g>
<g transform="translate(293.3)"><text y="27.4">NOT NULL</text><text y="40.8">NOT NULL</text><text y="54.2">NULL</text><text y="67.7">NULL</text><text y="81.1">NULL</text><text y="94.5">NULL</text><text y="107.9">NULL</text><text y="121.3">NULL</text><text y="134.8">NULL</text><text y="148.2">NULL</text><text y="161.6">NULL</text><text y="175">NULL</text><text y="188.4">NULL</text><text y="201.9">NULL</text><text y="215.3">NULL</text><text y="228.7">NULL</text><text y="242.1">NULL</text><text y="255.5">NULL</text><text y="269">NULL</text><text y="282.4">NULL</text><text y="295.8">NULL</text><text y="309.2">NULL</text><text y="322.6">NULL</text><text y="336.1">NULL</text><text y="349.5">NULL</text></g></g></g>

<g id="item_answer" class="ye" transform="translate(1920.2,335.4)"><rect class="o" width="355.4" height="126.8"/>
<use class="p" href="#r11" y="18"/><g class="r"><use href="#r11" y="31.4"/><use href="#r11" y="44.8"/><use href="#r11" y="58.3"/><use href="#r11" y="71.7"/><use href="#r11" y="85.1"/><use href="#r11" y="98.5"/><use href="#r11" y="111.9"/></g>
<use href="#k" class="ky" x="11" y="24.4"/><use href="#k" class="kf" x="11" y="78"/><use href="#k" class="kf" x="11" y="91.5"/>
<g class="tx"><text class="ti tk" x="3" y="11.8">문의하기 답변(댓글)</text><text class="ti e" x="352" y="11.8">item_answer</text>
<g transform="translate(23.8)"><text y="27.4">item_answer_id</text><text y="40.8">create_date</text><text y="54.2">last_modified_date</text><text y="67.7">contents</text><text y="81.1">member_id</text><text y="94.5">target_question_id</text><text y="107.9">INDEX</text><text y="121.3">INDEX</text></g>
<g transform="translate(99.2)"><text y="27.4">item_answer_id</text><text y="40.8">create_date</text><text y="54.2">last_modified_date</text><text y="67.7">contents</text><text y="81.1">member_id</text><text y="94.5">target_question_id</text><text y="107.9">INDEX</text><text y="121.3">INDEX</text></g>
<g transform="translate(174)"><text y="27.4">BIGINT</text><text y="40.8">DATETIME(6)</text><text y="54.2">DATETIME(6)</text><text y="67.7">VARCHAR(255)</text><text y="81.1">BIGINT</text><text y="94.5">BIGINT</text><text y="107.9">`FK7yutk6k64b9f1sg32u4x680lt`</text><text y="121.3">`FK3pt817rgc8ugb0p2cwrih5dxw`</text></g>
<g transform="translate(306.2)"><text y="27.4">NOT NULL</text><text y="40.8">NULL</text><text y="54.2">NULL</text><text y="67.7">NULL</text><text y="81.1">NULL</text><text y="94.5">NULL</text><text y="107.9">NULL</text><text y="121.3">NULL</text></g></g></g>

<g id="item_question" class="ye" transform="translate(1920.2,523.4)"><rect class="o" width="362.3" height="139.9"/>
<use class="p" href="#r12" y="18"/><g class="r"><use href="#r12" y="31.4"/><use href="#r12" y="44.8"/><use href="#r12" y="58.3"/><use href="#r12" y="71.7"/><use href="#r12" y="85.1"/><use href="#r12" y="98.5"/><use href="#r12" y="111.9"/><use href="#r12" y="125.4"/></g>
<use href="#k" class="ky" x="11" y="24.4"/><use href="#k" class="kf" x="11" y="91.5"/><use href="#k" class="kf" x="11" y="104.9"/>
<g class="tx"><text class="ti tk" x="3" y="11.8">문의하기</text><text class="ti e" x="359" y="11.8">item_question</text>
<g transform="translate(23.8)"><text y="27.4">item_question_id</text><text y="40.8">create_date</text><text y="54.2">last_modified_date</text><text y="67.7">contents</text><text y="81.1">title</text><text y="94.5">item_id</text><text y="107.9">member_id</text><text y="121.3">INDEX</text><text y="134.8">INDEX</text></g>
<g transform="translate(99.2)"><text y="27.4">item_question_id</text><text y="40.8">create_date</text><text y="54.2">last_modified_date</text><text y="67.7">contents</text><text y="81.1">title</text><text y="94.5">item_id</text><text y="107.9">member_id</text><text y="121.3">INDEX</text><text y="134.8">INDEX</text></g>
<g transform="translate(174)"><text y="27.4">BIGINT</text><text y="40.8">DATETIME(6)</text><text y="54.2">DATETIME(6)</text><text y="67.7">VARCHAR(255)</text><text y="81.1">VARCHAR(255)</text><text y="94.5">BIGINT</text><text y="107.9">BIGINT</text><text y="121.3">`FKfotw4aehrk0opgvotwc89uoj9`</text><text y="134.8">`FKmx4hf0y542h1o091pas7f6npa`</text></g>
<g transform="translate(308.5)"><text y="27.4">NOT NULL</text><text y="40.8">NULL</text><text y="54.2">NULL</text><text y="67.7">NULL</text><text y="81.1">NULL</text><text y="94.5">NULL</text><text y="107.9">NULL</text><text y="121.3">NULL</text><text y="134.8">NULL</text></g></g></g>

<g id="notice" class="pu" transform="translate(2329.3,523.4)"><rect class="o" width="282.4" height="126.8"/>
<use class="p" href="#r13" y="18"/><g class="r"><use href="#r13" y="31.4"/><use href="#r13" y="44.8"/><use href="#r13" y="58.3"/><use href="#r13" y="71.7"/><use href="#r13" y="85.1"/><use href="#r13" y="98.5"/><use href="#r13" y="111.9"/></g>
<use href="#k" class="ky" x="11" y="24.4"/>
<g class="tx"><text class="ti tk" x="3.5" y="11.8">공지사항</text><text class="ti e" x="278.5" y="11.8">notice</text>
<g class="kn" transform="translate(24)"><text y="27.4">공지사항 ID</text><text y="40.8">공지사항 생성일자</text><text y="54.2">공지사항 수정일자</text><text y="67.7">공지사항 생성자</text><text y="81.1">공지사항 수정자</text><text y="94.5">공지사항 내용</text><text y="107.9">회원 ID</text><text y="121.3">공지사항 제목</text></g>
<g transform="translate(91)"><text y="27.4">notice_id</text><text y="40.8">create_date</text><text y="54.2">last_modified_date</text><text y="67.7">created_by</text><text y="81.1">last_modified_by</text><text y="94.5">contents</text><text y="107.9">member_id</text><text y="121.3">title</text></g>
<g transform="translate(166)"><text y="27.4">BIGINT</text><text y="40.8">DATETIME(6)</text><text y="54.2">DATETIME(6)</text><text y="67.7">VARCHAR(255)</text><text y="81.1">VARCHAR(255)</text><text y="94.5">VARCHAR(255)</text><text y="107.9">VARCHAR(255)</text><text y="121.3">VARCHAR(255)</text></g>
<g transform="translate(232)"><text y="27.4">NOT NULL</text><text y="40.8">NULL</text><text y="54.2">NULL</text><text y="67.7">NULL</text><text y="81.1">NULL</text><text y="94.5">NULL</text><text y="107.9">NULL</text><text y="121.3">NULL</text></g></g></g>

<g id="orders" class="ol" transform="translate(2175.6,825.4)"><rect class="o" width="268.1" height="113"/>
<use class="p" href="#r14" y="18"/><g class="r"><use href="#r14" y="31.4"/><use href="#r14" y="44.8"/><use href="#r14" y="58.3"/><use href="#r14" y="71.7"/><use href="#r14" y="85.1"/><use href="#r14" y="98.5"/></g>
<use href="#k" class="ky" x="10.8" y="24.4"/><use href="#k" class="kf" x="10.8" y="104.9"/>
<g class="tx"><text class="ti tk" x="3" y="11.8">주문</text><text class="ti e" x="264.6" y="11.8">orders</text>
<g class="kn" transform="translate(23.5)"><text y="27.4">주문 ID</text><text y="40.8">주문 생성일자</text><text y="54.2">주문 수정일자</text><text y="67.7">관리자 메모</text><text y="81.1">주문요청 메모</text><text y="94.5">주문 상태</text><text y="107.9">회원 ID</text></g>
<g transform="translate(76.6)"><text y="27.4">order_id</text><text y="40.8">create_date</text><text y="54.2">last_modified_date</text><text y="67.7">admin_memo</text><text y="81.1">memo</text><text y="94.5">status</text><text y="107.9">member_id</text></g>
<g transform="translate(151.5)"><text y="27.4">BIGINT</text><text y="40.8">DATETIME(6)</text><text y="54.2">DATETIME(6)</text><text y="67.7">LONGTEXT</text><text y="81.1">LONGTEXT</text><text y="94.5">VARCHAR(255)</text><text y="107.9">BIGINT</text></g>
<g transform="translate(217.6)"><text y="27.4">NOT NULL</text><text y="40.8">NULL</text><text y="54.2">NULL</text><text y="67.7">NULL</text><text y="81.1">NULL</text><text y="94.5">NULL</text><text y="107.9">NULL</text></g></g></g>

<g id="payment" class="ol" transform="translate(2524,825.4)"><rect class="o" width="282" height="153.3"/>
<use class="p" href="#r15" y="18"/><g class="r"><use href="#r15" y="31.4"/><use href="#r15" y="44.8"/><use href="#r15" y="58.3"/><use href="#r15" y="71.7"/><use href="#r15" y="85.1"/><use href="#r15" y="98.5"/><use href="#r15" y="111.9"/><use href="#r15" y="125.4"/><use href="#r15" y="138.8"/></g>
<use href="#k" class="ky" x="11" y="24.4"/><use href="#k" class="kf" x="11" y="145.2"/>
<g class="tx"><text class="ti tk" x="3" y="11.8">결제</text><text class="ti e" x="278.5" y="11.8">payment</text>
<g class="kn" transform="translate(24.5)"><text y="27.4">결제 ID</text><text y="40.8">결제 생성일자</text><text y="54.2">결제 수정일자</text><text y="67.7">사내 연락처</text><text y="81.1">회사</text><text y="94.5">결제수단</text><text y="107.9">받는사람 휴대 번호</text><text y="121.3">총 주문 가격</text><text y="134.8">결제 상태</text><text y="148.2">주문 ID</text></g>
<g transform="translate(92.6)"><text y="27.4">payment_id</text><text y="40.8">create_date</text><text y="54.2">last_modified_date</text><text y="67.7">business_number</text><text y="81.1">company</text><text y="94.5">means</text><text y="107.9">number</text><text y="121.3">price</text><text y="134.8">status</text><text y="148.2">order_id</text></g>
<g transform="translate(167.6)"><text y="27.4">BIGINT</text><text y="40.8">DATETIME(6)</text><text y="54.2">DATETIME(6)</text><text y="67.7">VARCHAR(255)</text><text y="81.1">VARCHAR(255)</text><text y="94.5">VARCHAR(255)</text><text y="107.9">VARCHAR(255)</text><text y="121.3">INT</text><text y="134.8">VARCHAR(255)</text><text y="148.2">BIGINT</text></g>
<g transform="translate(233.6)"><text y="27.4">NOT NULL</text><text y="40.8">NULL</text><text y="54.2">NULL</text><text y="67.7">NULL</text><text y="81.1">NULL</text><text y="94.5">NULL</text><text y="107.9">NULL</text><text y="121.3">NULL</text><text y="134.8">NULL</text><text y="148.2">NOT NULL</text></g></g></g>

<g id="order_item" class="ol" transform="translate(2168.4,1067)"><rect class="o" width="275.3" height="113"/>
<use class="p" href="#r16" y="18"/><g class="r"><use href="#r16" y="31.4"/><use href="#r16" y="44.8"/><use href="#r16" y="58.3"/><use href="#r16" y="71.7"/><use href="#r16" y="85.1"/><use href="#r16" y="98.5"/></g>
<use href="#k" class="ky" x="11" y="24.4"/><use href="#k" class="kf" x="11" y="91.5"/><use href="#k" class="kf" x="11" y="104.9"/>
<g class="tx"><text class="ti tk" x="3" y="11.8">주문 상품</text><text class="ti e" x="271.8" y="11.8">order_item</text>
<g class="kn" transform="translate(24)"><text y="27.4">주문상품 ID</text><text y="40.8">주문상품 생성일자</text><text y="54.2">주문상품 수정일자</text><text y="67.7">주문상품 갯수</text><text y="81.1">주문상품 가격</text><text y="94.5">상품 ID</text><text y="107.9">주문 ID</text></g>
<g transform="translate(90.5)"><text y="27.4">order_item_id</text><text y="40.8">create_date</text><text y="54.2">last_modified_date</text><text y="67.7">count</text><text y="81.1">order_price</text><text y="94.5">item_id</text><text y="107.9">order_id2</text></g>
<g transform="translate(165.8)"><text y="27.4">BIGINT</text><text y="40.8">DATETIME(6)</text><text y="54.2">DATETIME(6)</text><text y="67.7">INT</text><text y="81.1">INT</text><text y="94.5">BIGINT</text><text y="107.9">BIGINT</text></g>
<g transform="translate(224.3)"><text y="27.4">NOT NULL</text><text y="40.8">NULL</text><text y="54.2">NULL</text><text y="67.7">NULL</text><text y="81.1">NULL</text><text y="94.5">NULL</text><text y="107.9">NOT NULL</text></g></g></g>

<g id="delivery" class="ol" transform="translate(2524,1067)"><rect class="o" width="288.4" height="207"/>
<use class="p" href="#r17" y="18"/><g class="r"><use href="#r17" y="31.4"/><use href="#r17" y="44.8"/><use href="#r17" y="58.3"/><use href="#r17" y="71.7"/><use href="#r17" y="85.1"/><use href="#r17" y="98.5"/><use href="#r17" y="111.9"/><use href="#r17" y="125.4"/><use href="#r17" y="138.8"/><use href="#r17" y="152.2"/><use href="#r17" y="165.6"/><use href="#r17" y="179"/><use href="#r17" y="192.5"/></g>
<use href="#k" class="ky" x="11" y="24.4"/><use href="#k" class="kf" x="11" y="198.9"/>
<g class="tx"><text class="ti tk" x="3" y="11.8">배송</text><text class="ti e" x="285" y="11.8">delivery</text>
<g class="kn" transform="translate(24.5)"><text y="27.4">배송 ID</text><text y="40.8">배송 생성일자</text><text y="54.2">배송 수정일자</text><text y="67.7">받는사람 주소</text><text y="81.1">회사명</text><text y="94.5">배송비</text><text y="107.9">송장번호</text><text y="121.3">배송요청사항</text><text y="134.8">받는사람 휴대 번호</text><text y="148.2">받는사람</text><text y="161.6">배송일자 마지막 일</text><text y="175">배송일자 시작일</text><text y="188.4">배송 상태</text><text y="201.9">주문 ID</text></g>
<g transform="translate(92.6)"><text y="27.4">delivery_id</text><text y="40.8">create_date</text><text y="54.2">last_modified_date</text><text y="67.7">address</text><text y="81.1">company</text><text y="94.5">cost</text><text y="107.9">invoice_number</text><text y="121.3">memo</text><text y="134.8">phone_number</text><text y="148.2">receiver</text><text y="161.6">shipping_end_date</text><text y="175">shipping_start_date</text><text y="188.4">status</text><text y="201.9">order_id</text></g>
<g transform="translate(170.5)"><text y="27.4">BIGINT</text><text y="40.8">DATETIME(6)</text><text y="54.2">DATETIME(6)</text><text y="67.7">VARCHAR(255)</text><text y="81.1">VARCHAR(255)</text><text y="94.5">INT</text><text y="107.9">VARCHAR(255)</text><text y="121.3">VARCHAR(255)</text><text y="134.8">VARCHAR(11)</text><text y="148.2">VARCHAR(255)</text><text y="161.6">DATETIME(6)</text><text y="175">DATETIME(6)</text><text y="188.4">VARCHAR(255)</text><text y="201.9">BIGINT</text></g>
<g transform="translate(236.6)"><text y="27.4">NOT NULL</text><text y="40.8">NULL</text><text y="54.2">NULL</text><text y="67.7">NULL</text><text y="81.1">NULL</text><text y="94.5">NULL</text><text y="107.9">NULL</text><text y="121.3">NULL</text><text y="134.8">NULL</text><text y="148.2">NULL</text><text y="161.6">NULL</text><text y="175">NULL</text><text y="188.4">NULL</text><text y="201.9">NOT NULL</text></g></g></g>

<g id="cart" class="bl" transform="translate(1074.7,1087.4)"><rect class="o" width="348.5" height="86.2"/>
<use class="p" href="#r18" y="18"/><g class="r"><use href="#r18" y="31.4"/><use href="#r18" y="44.8"/><use href="#r18" y="58.3"/><use href="#r18" y="71.7"/></g>
<use href="#k" class="ky" x="10.3" y="24.4"/><use href="#k" class="kf" x="10.3" y="78"/>
<g class="tx"><text class="ti tk" x="3" y="11.8">장바구니</text><text class="ti e" x="345" y="11.8">cart</text>
<g class="kn" transform="translate(23.4)"><text y="27.4">장바구니 ID</text><text y="40.8">장바구니 생성일자</text><text y="54.2">장바구니 수정일자</text><text class="la" y="67.7">INDEX</text><text y="81.1">회원ID</text></g>
<g transform="translate(90.3)"><text y="27.4">cart_id</text><text y="40.8">create_date</text><text y="54.2">last_modified_date</text><text y="67.7">INDEX</text><text y="81.1">member_id</text></g>
<g transform="translate(165.4)"><text y="27.4">BIGINT</text><text y="40.8">DATETIME(6)</text><text y="54.2">DATETIME(6)</text><text y="67.7">`FKix170nytunweovf2v9137mx2o`</text><text y="81.1">BIGINT</text></g>
<g transform="translate(299.2)"><text y="27.4">NOT NULL</text><text y="40.8">NULL</text><text y="54.2">NULL</text><text y="67.7">NULL</text><text y="81.1">NOT NULL</text></g></g></g>

<g id="cart_item" class="bl" transform="translate(1074.7,1235)"><rect class="o" width="355.5" height="126.8"/>
<use class="p" href="#r19" y="18"/><g class="r"><use href="#r19" y="31.4"/><use href="#r19" y="44.8"/><use href="#r19" y="58.3"/><use href="#r19" y="71.7"/><use href="#r19" y="85.1"/><use href="#r19" y="98.5"/><use href="#r19" y="111.9"/></g>
<use href="#k" class="ky" x="10.3" y="24.4"/><use href="#k" class="kf" x="10.3" y="78"/><use href="#k" class="kf" x="10.3" y="91.5"/>
<g class="tx"><text class="ti tk" x="3" y="11.8">장바구니 상품</text><text class="ti e" x="352" y="11.8">cart_item</text>
<g transform="translate(23.4)"><text y="27.4">cart_item_id</text><text y="40.8">create_date</text><text y="54.2">last_modified_date</text><text y="67.7">count</text><text y="81.1">cart_id</text><text y="94.5">item_id</text><text y="107.9">INDEX</text><text y="121.3">INDEX</text></g>
<g transform="translate(98.5)"><text y="27.4">cart_item_id</text><text y="40.8">create_date</text><text y="54.2">last_modified_date</text><text y="67.7">count</text><text y="81.1">cart_id</text><text y="94.5">item_id</text><text y="107.9">INDEX</text><text y="121.3">INDEX</text></g>
<g transform="translate(173.7)"><text y="27.4">BIGINT</text><text y="40.8">DATETIME(6)</text><text y="54.2">DATETIME(6)</text><text y="67.7">INT</text><text y="81.1">BIGINT</text><text y="94.5">BIGINT</text><text y="107.9">`FK1uobyhgl1wvgt1jpccla8xxs3`</text><text y="121.3">`FKdljf497fwm1f8eb1h8t6n50u9`</text></g>
<g transform="translate(304.5)"><text y="27.4">NOT NULL</text><text y="40.8">NULL</text><text y="54.2">NULL</text><text y="67.7">NOT NULL</text><text y="81.1">NULL</text><text y="94.5">NULL</text><text y="107.9">NULL</text><text y="121.3">NULL</text></g></g></g>

<g id="item" class="te" transform="translate(1611.5,1087.4)"><rect class="o" width="362.1" height="166.7"/>
<use class="p" href="#r20" y="18"/><g class="r"><use href="#r20" y="31.4"/><use href="#r20" y="44.8"/><use href="#r20" y="58.3"/><use href="#r20" y="71.7"/><use href="#r20" y="85.1"/><use href="#r20" y="98.5"/><use href="#r20" y="111.9"/><use href="#r20" y="125.4"/><use href="#r20" y="138.8"/><use href="#r20" y="152.2"/></g>
<use href="#k" class="ky" x="11" y="24.4"/><use href="#k" class="kf" x="11" y="145.2"/>
<g class="tx"><text class="ti tk" x="3" y="11.8">상품</text><text class="ti e" x="358.7" y="11.8">item</text>
<g class="kn" transform="translate(24.1)"><text y="27.4">상품 ID</text><text y="40.8">상품 생성일자</text><text y="54.2">상품 수정일자</text><text y="67.7">관리자 ID</text><text y="81.1">상품 설명</text><text y="94.5">상품명</text><text y="107.9">상품 가격</text><text y="121.3">상품 수량</text><text y="134.8">상품가격 표기/미표기</text><text y="148.2">카테고리 ID</text><text class="la" y="161.6">INDEX</text></g>
<g transform="translate(100.4)"><text y="27.4">item_id</text><text y="40.8">create_date</text><text y="54.2">last_modified_date</text><text y="67.7">admin_id</text><text y="81.1">description</text><text y="94.5">name</text><text y="107.9">price</text><text y="121.3">quantity</text><text y="134.8">view_yn</text><text y="148.2">category_id</text><text y="161.6">INDEX</text></g>
<g transform="translate(176.1)"><text y="27.4">BIGINT</text><text y="40.8">DATETIME(6)</text><text y="54.2">DATETIME(6)</text><text y="67.7">VARCHAR(255)</text><text y="81.1">VARCHAR(255)</text><text y="94.5">VARCHAR(255)</text><text y="107.9">INT</text><text y="121.3">INT</text><text y="134.8">VARCHAR(255)</text><text y="148.2">BIGINT</text><text y="161.6">`FK2n9w8d0dp4bsfra9dcg004614`</text></g>
<g transform="translate(308.1)"><text y="27.4">NOT NULL</text><text y="40.8">NULL</text><text y="54.2">NULL</text><text y="67.7">NULL</text><text y="81.1">NULL</text><text y="94.5">NULL</text><text y="107.9">NOT NULL</text><text y="121.3">NOT NULL</text><text y="134.8">NULL</text><text y="148.2">NULL</text><text y="161.6">NULL</text></g></g></g>

<g id="category" class="te" transform="translate(1611.3,1308.7)"><rect class="o" width="281.7" height="86.2"/>
<use class="p" href="#r21" y="18"/><g class="r"><use href="#r21" y="31.4"/><use href="#r21" y="44.8"/><use href="#r21" y="58.3"/><use href="#r21" y="71.7"/></g>
<use href="#k" class="ky" x="11" y="24.4"/>
<g class="tx"><text class="ti tk" x="3.3" y="11.8">카테고리</text><text class="ti e" x="278" y="11.8">category</text>
<g class="kn" transform="translate(24.3)"><text y="27.4">카테고리 ID</text><text y="40.8">카테고리 생성일자</text><text y="54.2">카테고리 수정일자</text><text y="67.7">카테고리명</text><text y="81.1">순서</text></g>
<g transform="translate(90.7)"><text y="27.4">category_id</text><text y="40.8">create_date</text><text y="54.2">last_modified_date</text><text y="67.7">name</text><text y="81.1">sort</text></g>
<g transform="translate(165.7)"><text y="27.4">BIGINT</text><text y="40.8">DATETIME(6)</text><text y="54.2">DATETIME(6)</text><text y="67.7">VARCHAR(255)</text><text y="81.1">INT</text></g>
<g transform="translate(231.7)"><text y="27.4">NOT NULL</text><text y="40.8">NULL</text><text y="54.2">NULL</text><text y="67.7">NULL</text><text y="81.1">NOT NULL</text></g></g></g>

<g id="item_photo" class="te" transform="translate(1993.8,1302)"><rect class="o" width="342.7" height="99.6"/>
<use class="p" href="#r22" y="18"/><g class="r"><use href="#r22" y="31.4"/><use href="#r22" y="44.8"/><use href="#r22" y="58.3"/><use href="#r22" y="71.7"/><use href="#r22" y="85.1"/></g>
<use href="#k" class="ky" x="11" y="24.4"/><use href="#k" class="kf" x="11" y="78"/>
<g class="tx"><text class="ti tk" x="3" y="11.8">상품 사진</text><text class="ti e" x="339.5" y="11.8">item_photo</text>
<g class="kn" transform="translate(23.7)"><text y="27.4">상품 사진 ID</text><text y="40.8">상품 사진 생성일자</text><text y="54.2">상품 사진 수정일자</text><text y="67.7">상품 사진 파일명</text><text y="81.1">상품 ID</text><text class="la" y="94.5">INDEX</text></g>
<g transform="translate(92.1)"><text y="27.4">item_photo_id</text><text y="40.8">create_date</text><text y="54.2">last_modified_date</text><text y="67.7">file_name</text><text y="81.1">item_id</text><text y="94.5">INDEX</text></g>
<g transform="translate(167.2)"><text y="27.4">BIGINT</text><text y="40.8">DATETIME(6)</text><text y="54.2">DATETIME(6)</text><text y="67.7">VARCHAR(255)</text><text y="81.1">BIGINT</text><text y="94.5">`FKt0ieemibhlpvh0x3pef7aroxv`</text></g>
<g transform="translate(291.8)"><text y="27.4">NOT NULL</text><text y="40.8">NULL</text><text y="54.2">NULL</text><text y="67.7">NULL</text><text y="81.1">NULL</text><text y="94.5">NULL</text></g></g></g>

<g id="file" class="vi" transform="translate(1618.1,1429.7)"><rect class="o" width="268.6" height="170"/>
<use class="p" href="#r23" y="18"/><g class="r"><use href="#r23" y="31.4"/><use href="#r23" y="44.8"/><use href="#r23" y="58.3"/><use href="#r23" y="71.7"/><use href="#r23" y="85.1"/><use href="#r23" y="98.5"/><use href="#r23" y="111.9"/><use href="#r23" y="125.4"/><use href="#r23" y="138.8"/></g>
<use href="#k" class="ky" x="10.7" y="24.4"/>
<g class="tx"><text class="ti tk" x="3" y="11.8">파일</text><text class="ti e" x="265" y="11.8">file</text>
<g class="kn" transform="translate(23.3)"><text y="27.4">파일 ID</text><text y="40.8">파일 생성일자</text><text y="54.2">파일 수정일자</text><text y="67.7">파일 생성자</text><text y="81.1">파일 수정자</text><text y="94.5">파일명</text><text y="107.9">파일경로</text><text y="121.3">이전파일명</text><text y="134.8">게시판 ID</text><text y="148.2">게시판 종류</text></g>
<g transform="translate(76.6)"><text y="27.4">file_id</text><text y="40.8">create_date</text><text y="54.2">last_modified_date</text><text y="67.7">created_by</text><text y="81.1">last_modified_by</text><text y="94.5">file_name</text><text y="107.9">file_path</text><text y="121.3">org_file_name</text><text y="134.8">target_id</text><text y="148.2">type</text></g>
<g transform="translate(151.7)"><text y="27.4">BIGINT</text><text y="40.8">DATETIME(6)</text><text y="54.2">DATETIME(6)</text><text y="67.7">VARCHAR(255)</text><text y="81.1">VARCHAR(255)</text><text y="94.5">VARCHAR(255)</text><text y="107.9">VARCHAR(255)</text><text y="121.3">VARCHAR(255)</text><text y="134.8">BIGINT</text><text y="148.2">VARCHAR(255)</text></g>
<g transform="translate(217.7)"><text y="27.4">NOT NULL</text><text y="40.8">NULL</text><text y="54.2">NULL</text><text y="67.7">NULL</text><text y="81.1">NULL</text><text y="94.5">NULL</text><text y="107.9">NULL</text><text y="121.3">NULL</text><text y="134.8">NULL</text><text y="148.2">NULL</text></g></g></g>
</svg>
